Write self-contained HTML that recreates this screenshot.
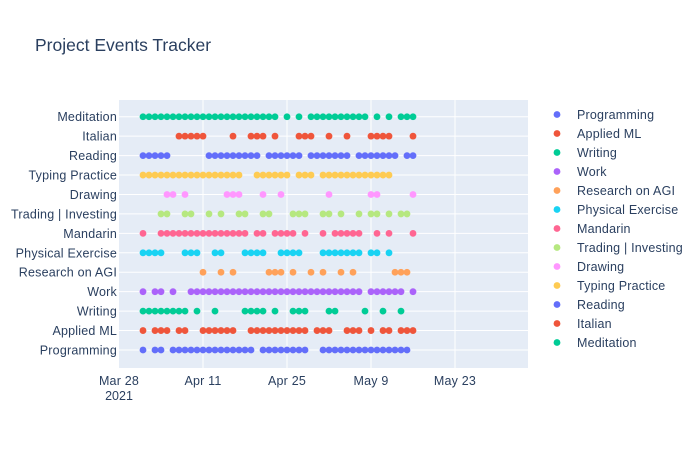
<!DOCTYPE html>
<html><head><meta charset="utf-8"><style>
body{margin:0;background:#fff;font-family:"Liberation Sans","Open Sans",sans-serif}
svg text{font-family:"Liberation Sans","Open Sans",sans-serif;fill:#2a3f5f}
</style></head><body>
<svg id="c" width="700" height="450">
<rect width="700" height="450" fill="#fff"/>
<text x="35" y="51" font-size="17.5">Project Events Tracker</text>
<rect x="119" y="100" width="409" height="268" fill="#e5ecf6"/>
<g id="grid"></g><g id="marks"></g><g id="axes"></g><g id="legend"></g>
</svg>
<script>
const categories = ["Programming","Applied ML","Writing","Work","Research on AGI","Physical Exercise","Mandarin","Trading | Investing","Drawing","Typing Practice","Reading","Italian","Meditation"];
const colors = ["#636efa","#EF553B","#00cc96","#ab63fa","#FFA15A","#19d3f3","#FF6692","#B6E880","#FF97FF","#FECB52","#636efa","#EF553B","#00cc96"];
// day offsets from 2021-04-01
const programming = [0,2,3,5,6,7,8,9,10,11,12,13,14,15,16,17,18,20,21,22,23,24,25,26,27,30,31,32,33,34,35,36,37,38,39,40,41,42,43,44];
const appliedML = [0,2,3,4,6,7,10,11,12,13,14,15,18,19,20,21,22,23,24,25,26,27,29,30,31,34,35,36,38,40,41,43,44,45];
const writing = [0,1,2,3,4,5,6,7,9,12,17,18,19,20,22,25,26,27,31,32,37,40,43];
const work = [0,2,3,5,8,9,10,11,12,13,14,15,16,17,18,19,20,21,22,23,24,25,26,27,28,29,30,31,32,33,34,35,36,38,39,40,41,42,43,45];
const research = [10,13,15,21,22,23,25,28,30,33,35,42,43,44];
const physical = [0,1,2,3,7,8,9,12,13,17,18,19,20,23,24,25,26,30,31,32,33,34,35,36,38,39,41];
const mandarin = [0,3,4,5,6,7,8,9,10,11,12,13,14,15,16,17,19,20,22,23,24,25,27,30,32,33,34,35,36,39,41,45];
const trading = [3,4,7,8,11,13,16,17,20,21,25,26,27,30,31,33,36,38,39,41,43,44];
const drawing = [4,5,7,14,15,16,20,23,31,38,39,45];
const typing = [0,1,2,3,4,5,6,7,8,9,10,11,12,13,14,15,16,19,20,21,22,23,24,26,27,28,30,31,32,33,34,35,36,37,38,39,40,41];
const reading = [0,1,2,3,4,11,12,13,14,15,16,17,18,19,21,22,23,24,25,26,28,29,30,31,32,33,34,36,37,38,39,40,41,42,44,45];
const italian = [6,7,8,9,10,15,18,19,20,22,26,27,28,31,34,38,39,40,41,45];
const meditation = [0,1,2,3,4,5,6,7,8,9,10,11,12,13,14,15,16,17,18,19,20,21,22,24,26,28,29,30,31,32,33,34,35,36,37,39,41,43,44,45];
const seriesDays = [programming,appliedML,writing,work,research,physical,mandarin,trading,drawing,typing,reading,italian,meditation];
const tickLabels = ["Mar 28","Apr 11","Apr 25","May 9","May 23"];
const tickDays = [-4,10,24,38,52];

const NS="http://www.w3.org/2000/svg";
const x = d => 119 + (d+4)*6.0;
const y = i => 350 - i*19.44;
function mk(tag, attrs, parent){const e=document.createElementNS(NS,tag);for(const k in attrs)e.setAttribute(k,attrs[k]);parent.appendChild(e);return e;}
const grid=document.getElementById('grid'),marks=document.getElementById('marks'),axes=document.getElementById('axes'),legend=document.getElementById('legend');
categories.forEach((c,i)=>{
  const l=mk('line',{x1:119,x2:528,y1:y(i),y2:y(i),stroke:'#fff','stroke-width':1},grid);
  
  
  const t=mk('text',{x:117,y:y(i)+4.5,'text-anchor':'end','font-size':12.5,'letter-spacing':0.2},axes);
  t.textContent=c;
  
  
});
tickDays.forEach((d,k)=>{
  if(k>0){const l=mk('line',{x1:x(d),x2:x(d),y1:100,y2:368,stroke:'#fff','stroke-width':1},grid);
  
  }
  const t=mk('text',{x:x(d),y:385,'text-anchor':'middle','font-size':12.5,'letter-spacing':0.2},axes);
  t.textContent=tickLabels[k];
  
  
});
const yr=mk('text',{x:x(-4),y:400,'text-anchor':'middle','font-size':12.5},axes);
yr.textContent='2021';


seriesDays.forEach((arr,i)=>{
  arr.forEach(d=>{
    const c=mk('circle',{cx:x(d),cy:y(i),r:3.4,fill:colors[i]},marks);
    
    
  });
  const ly=114.5+i*19;
  const lc=mk('circle',{cx:557,cy:ly,r:3.4,fill:colors[i]},legend);
  
  
  const lt=mk('text',{x:577,y:ly+4.5,'font-size':12.5,'letter-spacing':0.2},legend);
  lt.textContent=categories[i];
  
  
});
</script>
</body></html>
